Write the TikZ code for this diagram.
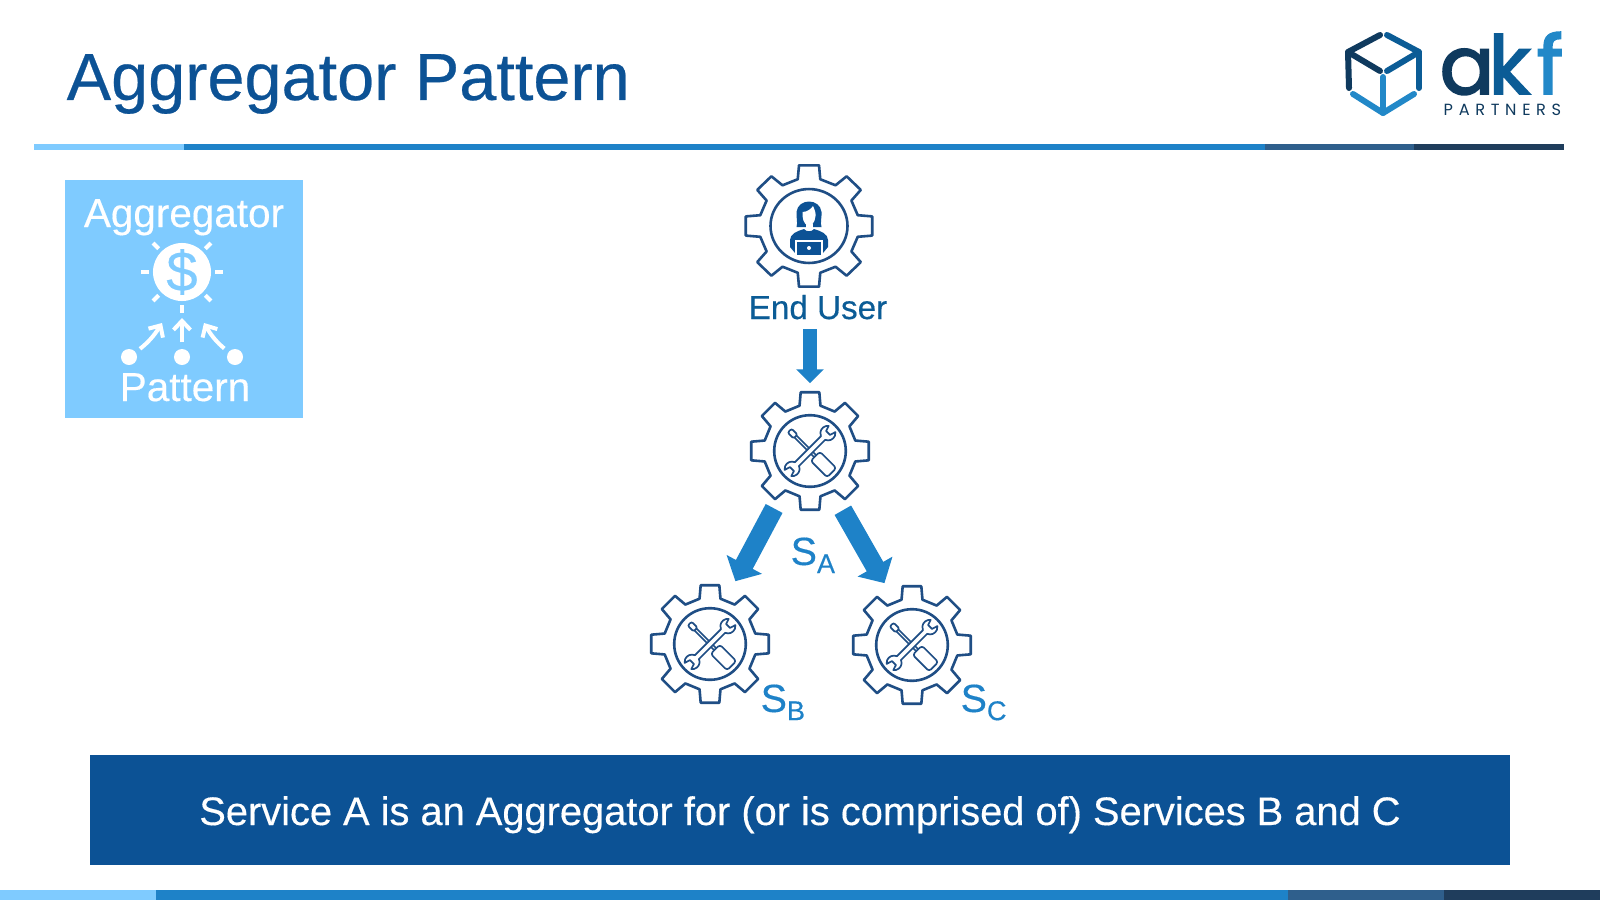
\documentclass[tikz,border=0pt]{standalone}
\usepackage{fontspec}
\setmainfont{Liberation Sans}[FakeBold=0.35]
\newfontfamily\logofont{Poppins}[FakeBold=2.4]
\newfontfamily\smallfont{Poppins}
\usetikzlibrary{%
  arrows.meta,%
  shapes.misc%
}
\definecolor{bandblue}{HTML}{0C5295}
\definecolor{skyblue}{HTML}{7FCBFF}
\definecolor{midblue}{HTML}{1E82C8}
\definecolor{steelblue}{HTML}{2F5F8C}
\definecolor{navyblue}{HTML}{1F3D5C}
\definecolor{gearblue}{HTML}{1F4E85}
\definecolor{logodark}{HTML}{0F3A5E}
\definecolor{logomid}{HTML}{0B5C96}
\definecolor{logolight}{HTML}{2288C8}
\newcommand{\svclabel}[1]{\fontsize{11.2}{12}\selectfont S\raisebox{-2.3pt}{\fontsize{7.7}{8}\selectfont #1}}
\tikzset{
  gearnode/.style={circle,minimum size=1.34cm,inner sep=0pt},
  gearline/.style={draw=gearblue,line width=0.026cm,line join=round},
  toolline/.style={draw=gearblue,line width=0.017cm,line join=round,fill=white},
  blockarrow/.style={draw=midblue,line width=#1},
  svctext/.style={text=midblue,anchor=base west,inner sep=0pt},
  whitetext/.style={text=white,anchor=base,inner sep=0pt,font=\fontsize{11.5}{13}\selectfont},
  logotext/.style={anchor=base west,inner sep=0pt,font=\logofont\fontsize{23}{26}\selectfont},
  sunray/.style={draw=white,line width=0.04cm},
  iconarrow/.style={draw=white,line width=0.04cm,-{Straight Barb[length=0.09cm,width=0.17cm]}},
  icondot/.style={circle,fill=white,minimum size=0.16cm,inner sep=0pt},
  cubeline/.style={line width=0.06cm,line cap=round,line join=round},
  gearpic/.pic={
    \draw[gearline,fill=white] (-13:50) foreach \a in {0,45,...,315}{
        -- ({\a-13}:50) -- ({\a-9}:64) -- ({\a+9}:64) -- ({\a+13}:50)} -- cycle;
    \draw[gearline] (0,0) circle (38.5);
  },
  toolspic/.pic={
    \begin{scope}[rotate=-45]
      \draw[toolline] (-23,-1.5) rectangle (8,1.5);
      \draw[toolline,rounded corners=0.6pt] (-31,-3) rectangle (-22,3);
    \end{scope}
    \begin{scope}[rotate=45]
      \draw[toolline] (-20,3) -- (20,3)
        arc[start angle=158,end angle=38,radius=8] -- (27.5,3) -- (27.5,-3) -- (33.3,-4.9)
        arc[start angle=-38,end angle=-158,radius=8] -- (-20,-3)
        arc[start angle=-22,end angle=-142,radius=8] -- (-27.5,-3) -- (-27.5,3) -- (-33.3,4.9)
        arc[start angle=142,end angle=22,radius=8] -- cycle;
    \end{scope}
    \begin{scope}[rotate=-45]
      \draw[toolline,rounded corners=0.8pt] (8,-7) -- (33,-7) -- (33,7) -- (8,7) -- cycle;
    \end{scope}
  },
  userpic/.pic={
    \fill[bandblue] (-12.5,1) .. controls (-11,-3) and (-13,-10) .. (-12.5,-14)
      .. controls (-11,-28) and (11,-28) .. (12.5,-14)
      .. controls (13,-10) and (11,-3) .. (12.5,1) -- cycle;
    \fill[white] (-6.5,-14) .. controls (-2,-14) and (2,-17) .. (4,-20)
      .. controls (6,-16) and (7,-12) .. (6.5,-10)
      .. controls (6,-3) and (2,0) .. (0,0)
      .. controls (-2,0) and (-6,-3) .. (-6.5,-10) -- cycle;
    \fill[white] (-3.5,-2) rectangle (3.5,4);
    \fill[bandblue] (-19,21) -- (-19,14) .. controls (-19,8) and (-12,5) .. (-5,3)
      .. controls (-3,6) and (3,6) .. (5,3)
      .. controls (12,5) and (19,8) .. (19,14) -- (19,21) -- (14,27) -- (-14,27) -- cycle;
    \draw[white,line width=0.012cm,fill=bandblue] (-13,15) rectangle (13,30);
    \fill[white] (0,22) circle (2);
  }
}

\begin{document}
\begin{tikzpicture}[x=0.01cm,y=-0.01cm]
  \useasboundingbox (0,0) rectangle (1600,900);
  \fill[white] (0,0) rectangle (1600,900);

  \node[text=bandblue,anchor=base west,inner sep=0pt,font=\fontsize{18.95}{22}\selectfont] (title) at (66,100) {Aggregator Pattern};

  \foreach \xa/\xb/\col in {34/184/skyblue,184/1265/midblue,1265/1414/steelblue,1414/1564/navyblue}
    \fill[\col] (\xa,144) rectangle (\xb,150);
  \foreach \xa/\xb/\col in {0/156/skyblue,156/1288/midblue,1288/1444/steelblue,1444/1600/navyblue}
    \fill[\col] (\xa,890) rectangle (\xb,900);

  % logo
  \draw[cubeline,logodark] (1380,35) -- (1348,52) -- (1380,71);
  \draw[cubeline,logodark] (1348,52) -- (1349,88);
  \draw[cubeline,logomid] (1387,35) -- (1419,52) -- (1387,71);
  \draw[cubeline,logomid] (1419,52) -- (1419,88);
  \draw[cubeline,logolight] (1353,94) -- (1383,113) -- (1414,94);
  \draw[cubeline,logolight] (1383,77) -- (1383,113);
  \node[logotext,text=logodark] (akfa) at (1439,94) {a};
  \node[logotext,text=logomid] (akfk) at (1488,94) {k};
  \node[logotext,text=logolight] (akff) at (1536,94) {f};
  \node[text=logodark,anchor=base west,inner sep=0pt] (partners) at (1443,115)
    {\smallfont\addfontfeatures{LetterSpace=35}\fontsize{4.6}{6}\selectfont PARTNERS};

  % pattern box
  \fill[skyblue] (65,180) rectangle (303,418);
  \node[whitetext] (boxtop) at (184,227) {Aggregator};
  \node[whitetext] (boxbottom) at (185,401) {Pattern};
  \node[circle,fill=white,minimum size=0.58cm,inner sep=0pt,text=skyblue,font=\fontsize{16}{17}\selectfont] (sun) at (182,272) {\$};
  \foreach \a in {0,45,90,135,180,225,315}
    \draw[sunray] (sun.center) ++(\a:33) -- ++(\a:8);
  \node[icondot] (dotl) at (129,357) {};
  \node[icondot] (dotm) at (182,357) {};
  \node[icondot] (dotr) at (235,357) {};
  \coordinate (tipl) at (162,323);
  \coordinate (tipm) at (182,318);
  \coordinate (tipr) at (204,323);
  \draw[iconarrow,shorten <=0.05cm] (dotl) to[bend right=10] (tipl);
  \draw[iconarrow,shorten <=0.06cm] (dotm) -- (tipm);
  \draw[iconarrow,shorten <=0.05cm] (dotr) to[bend left=10] (tipr);

  % gears
  \node[gearnode] (gearuser) at (809,226) {};
  \node[gearnode] (geara) at (810,451) {};
  \node[gearnode] (gearb) at (710,644) {};
  \node[gearnode] (gearc) at (912,645) {};
  \pic[yscale=0.96] at (gearuser) {gearpic};
  \pic at (gearuser) {userpic};
  \foreach \g in {geara,gearb,gearc}{
    \pic[scale=0.93] at (\g) {gearpic};
    \pic[scale=0.93] at (\g) {toolspic};
  }

  \node[text=logomid,anchor=base,inner sep=0pt,font=\fontsize{9.45}{11}\selectfont] (userlabel) at (818,319) {End User};
  \node[svctext] (labela) at (790,565) {\svclabel{A}};
  \node[svctext] (labelb) at (760,712) {\svclabel{B}};
  \node[svctext] (labelc) at (960,712) {\svclabel{C}};

  \draw[blockarrow=0.14cm,-{Triangle[length=0.14cm,width=0.27cm]},shorten <=0.09cm] (geara |- userlabel.south) -- (geara.north);
  \draw[blockarrow=0.19cm,-{Triangle[length=0.19cm,width=0.39cm]}] (geara.-122) -- (gearb.68);
  \draw[blockarrow=0.19cm,-{Triangle[length=0.19cm,width=0.39cm]}] (geara.-61) -- (gearc.114);

  \node[fill=bandblue,text=white,minimum width=14.2cm,minimum height=1.1cm,inner sep=0pt,text height=0.3cm,text depth=0pt,font=\fontsize{11.32}{13}\selectfont] (band) at (800,810)
    {Service A is an Aggregator for (or is comprised of) Services B and C};
\end{tikzpicture}
\end{document}
